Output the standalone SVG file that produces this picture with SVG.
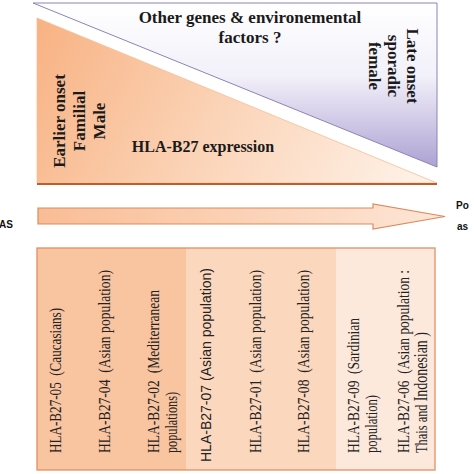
<svg xmlns="http://www.w3.org/2000/svg" width="474" height="474" viewBox="0 0 474 474">
<defs>
<linearGradient id="gPurple" gradientUnits="userSpaceOnUse" x1="0" y1="3" x2="0" y2="167">
<stop offset="0" stop-color="#ffffff"/>
<stop offset="0.45" stop-color="#f2f0f9"/>
<stop offset="1" stop-color="#ada2d3"/>
</linearGradient>
<linearGradient id="gOrange" gradientUnits="userSpaceOnUse" x1="37" y1="18" x2="400" y2="200">
<stop offset="0" stop-color="#f8b283"/>
<stop offset="0.5" stop-color="#fbd3b6"/>
<stop offset="1" stop-color="#fef0e5"/>
</linearGradient>
<linearGradient id="gArrow" gradientUnits="userSpaceOnUse" x1="38" y1="0" x2="445" y2="0">
<stop offset="0" stop-color="#f9bd96"/>
<stop offset="1" stop-color="#fde6d6"/>
</linearGradient>
<style>
.big{font-family:"Liberation Serif","Times New Roman",serif;font-weight:bold;font-size:17px;fill:#1a1a1a}
.ser{font-family:"Liberation Serif","Times New Roman",serif;font-size:16px;fill:#222}
.sans{font-family:"Liberation Sans",Arial,sans-serif;font-size:14.5px;fill:#222}
.side{font-family:"Liberation Sans",Arial,sans-serif;font-weight:bold;font-size:10px;fill:#111}
.sec{stroke:none}
</style>
</defs>
<rect width="474" height="474" fill="#ffffff"/>

<g id="triangle-other">
<polygon points="33,3 437,3 437,167" fill="url(#gPurple)" stroke="#8e84b6" stroke-width="1"/>
<text class="big" x="250" y="23" text-anchor="middle">Other genes &amp; environemental</text>
<text class="big" x="250" y="43" text-anchor="middle">factors ?</text>
<text class="big" transform="translate(407,66) rotate(90)" text-anchor="middle"><tspan x="0" y="0">Late onset</tspan><tspan x="0" dy="19">sporadic</tspan><tspan x="0" dy="19">female</tspan></text>
</g>

<g id="triangle-hla">
<polygon points="37,18 437,183 37,183" fill="url(#gOrange)" stroke="#f3bf98" stroke-width="0.8"/>
<line x1="37" y1="184" x2="437" y2="184" stroke="#b9602e" stroke-width="2"/>
<text class="big" transform="translate(65,121) rotate(-90)" text-anchor="middle"><tspan x="0" y="0">Earlier onset</tspan><tspan x="0" dy="20">Familial</tspan><tspan x="0" dy="20">Male</tspan></text>
<text class="big" style="font-size:16px" x="203" y="152" text-anchor="middle">HLA-B27 expression</text>
</g>

<g id="connectors">
<polygon points="38,208 373,208 373,204 445,216.5 373,229 373,224 38,224" fill="url(#gArrow)" stroke="#dc8a5c" stroke-width="1.2"/>
</g>

<g id="side-labels">
<text class="side" x="13" y="228" text-anchor="end">AS</text>
<text class="side" x="456" y="209">Po</text>
<text class="side" x="457" y="230">as</text>
</g>

<g id="subtypes-box">
<rect class="sec" x="37" y="248" width="149" height="222" fill="#f9c4a0"/>
<rect class="sec" x="186" y="248" width="150" height="222" fill="#fbd7bd"/>
<rect class="sec" x="336" y="248" width="99" height="222" fill="#fde9dc"/>
<rect x="37" y="248" width="398" height="222" fill="none" stroke="#e09162" stroke-width="1.3"/>
</g>

<g id="subtype-05"><text class="ser" transform="translate(61,453) rotate(-90)" textLength="145" lengthAdjust="spacingAndGlyphs">HLA-B27-05 &#160;(Caucasians)</text></g>
<g id="subtype-04"><text class="ser" transform="translate(110,453) rotate(-90)" textLength="183" lengthAdjust="spacingAndGlyphs">HLA-B27-04 &#160;(Asian population)</text></g>
<g id="subtype-02">
<text class="ser" transform="translate(159,453) rotate(-90)" textLength="163" lengthAdjust="spacingAndGlyphs">HLA-B27-02 &#160;(Mediterranean</text>
<text class="ser" transform="translate(177,453) rotate(-90)" textLength="61" lengthAdjust="spacingAndGlyphs">populations)</text>
</g>
<g id="subtype-07"><text class="sans" transform="translate(211,462) rotate(-90)" textLength="194" lengthAdjust="spacingAndGlyphs">HLA-B27-07 (Asian population)</text></g>
<g id="subtype-01"><text class="ser" transform="translate(261,453) rotate(-90)" textLength="183" lengthAdjust="spacingAndGlyphs">HLA-B27-01 &#160;(Asian population)</text></g>
<g id="subtype-08"><text class="ser" transform="translate(309,453) rotate(-90)" textLength="183" lengthAdjust="spacingAndGlyphs">HLA-B27-08 &#160;(Asian population)</text></g>
<g id="subtype-09">
<text class="ser" transform="translate(359,453) rotate(-90)" textLength="135" lengthAdjust="spacingAndGlyphs">HLA-B27-09 &#160;(Sardinian</text>
<text class="ser" transform="translate(377,453) rotate(-90)" textLength="58" lengthAdjust="spacingAndGlyphs">population)</text>
</g>
<g id="subtype-06">
<text class="ser" transform="translate(409,453) rotate(-90)" textLength="183" lengthAdjust="spacingAndGlyphs">HLA-B27-06 &#160;(Asian population :</text>
<text class="ser" transform="translate(427,453) rotate(-90)" textLength="121" lengthAdjust="spacingAndGlyphs">Thais and <tspan style="font-size:18px">Indonesian )</tspan></text>
</g>
</svg>
